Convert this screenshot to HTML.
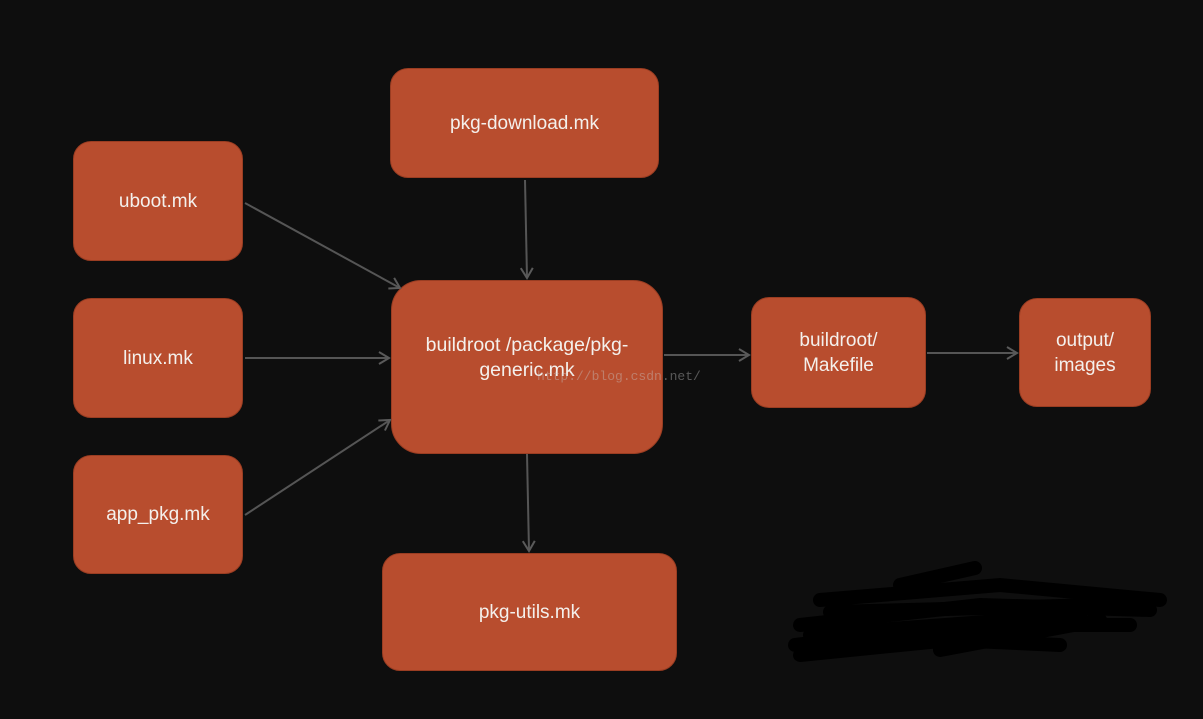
<!DOCTYPE html>
<html><head><style>
html,body{margin:0;padding:0;background:#0e0e0e;}
body{width:1203px;height:719px;position:relative;overflow:hidden;font-family:"Liberation Sans",sans-serif;}
.b{position:absolute;box-sizing:border-box;background:#b84d2e;border:1.5px solid #9a3d22;border-radius:18px;color:#f4f0ec;font-size:19px;display:flex;align-items:center;justify-content:center;text-align:center;line-height:25px;}
svg{position:absolute;left:0;top:0;}
</style></head><body>
<div class="b" style="left:73px;top:141px;width:170px;height:120px;">uboot.mk</div>
<div class="b" style="left:73px;top:298px;width:170px;height:120px;">linux.mk</div>
<div class="b" style="left:73px;top:455px;width:170px;height:119px;">app_pkg.mk</div>
<div class="b" style="left:390px;top:68px;width:269px;height:110px;">pkg-download.mk</div>
<div class="b" style="left:391px;top:280px;width:272px;height:174px;border-radius:30px;padding-bottom:18px;font-size:19.5px;">buildroot /package/pkg-<br>generic.mk</div>
<div class="b" style="left:382px;top:553px;width:295px;height:118px;">pkg-utils.mk</div>
<div class="b" style="left:751px;top:297px;width:175px;height:111px;">buildroot/<br>Makefile</div>
<div class="b" style="left:1019px;top:298px;width:132px;height:109px;">output/<br>images</div>
<div style="position:absolute;left:537px;top:369px;font-family:'Liberation Mono',monospace;font-size:13px;color:rgba(200,200,200,0.4);">http://blog.csdn.net/</div>
<svg width="1203" height="719">
<defs><marker id="a" markerWidth="14" markerHeight="14" refX="12" refY="7" orient="auto" markerUnits="userSpaceOnUse"><path d="M2,1 L12,7 L2,13" fill="none" stroke="#5a5a5a" stroke-width="2"/></marker></defs>
<g stroke="#555" stroke-width="2" fill="none" marker-end="url(#a)">
<line x1="245" y1="203" x2="400" y2="288"/>
<line x1="245" y1="358" x2="389" y2="358"/>
<line x1="245" y1="515" x2="390" y2="420"/>
<line x1="525" y1="180" x2="527" y2="278"/>
<line x1="527" y1="454" x2="529" y2="551"/>
<line x1="664" y1="355" x2="749" y2="355"/>
<line x1="927" y1="353" x2="1017" y2="353"/>
</g>
<g stroke="#000" stroke-width="14" stroke-linecap="round" fill="none">
<path d="M820,600 L1000,585 L1160,600"/>
<path d="M800,625 L980,605 L1150,610"/>
<path d="M795,645 L960,625 L1130,625"/>
<path d="M800,655 L950,640 L1060,645"/>
<path d="M900,585 L975,568 M940,650 L1100,620"/>
<path d="M830,612 L1100,605 M810,635 L1080,615 M820,648 L1000,632"/>
</g>
</svg>
</body></html>
